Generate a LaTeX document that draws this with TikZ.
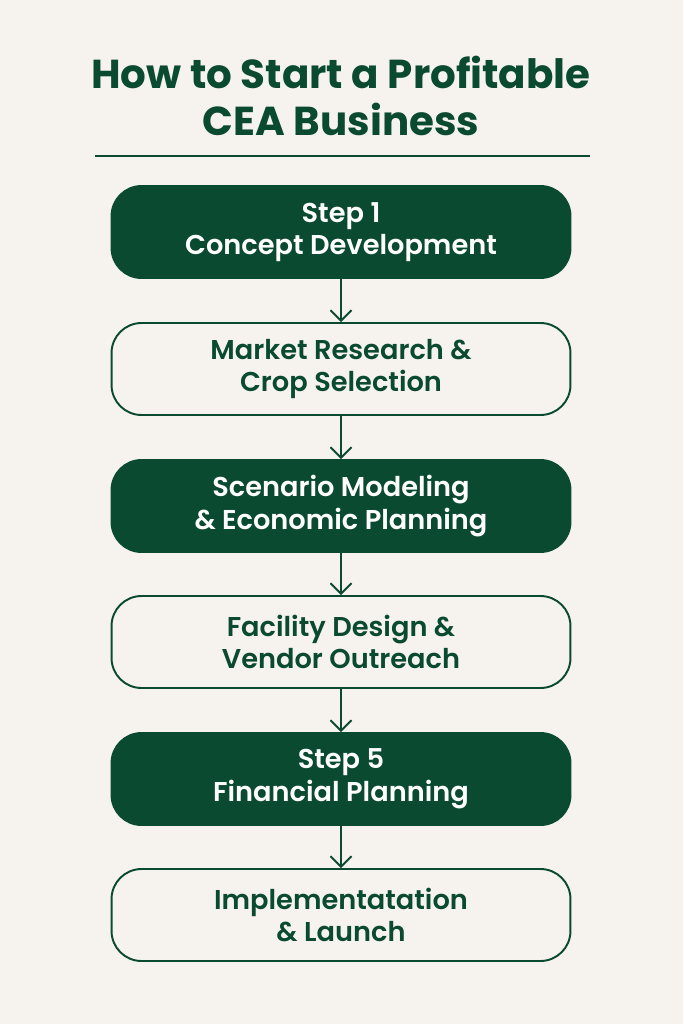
\documentclass[tikz,border=0pt]{standalone}
\usepackage{fontspec}
\setmainfont{Poppins}[BoldFont={Poppins SemiBold}]
\newfontfamily\titlefont{Poppins Bold}
\usepackage{xcolor}
\usepackage{tikz}
\usetikzlibrary{positioning,calc,arrows.meta}
\definecolor{cgreen}{HTML}{0A4A30}
\definecolor{cbg}{HTML}{F6F3EE}
\tikzstyle{full}= [rectangle, rounded corners=0.6cm, fill=cgreen, draw=cgreen, line width=1.1pt, text=white, minimum width=9.18cm, minimum height=1.84cm, align=center, font=\fontsize{15.5}{18.5}\selectfont\bfseries]
\tikzstyle{empty}= [rectangle, rounded corners=0.6cm, fill=cbg, draw=cgreen, line width=1.1pt, text=cgreen, minimum width=9.18cm, minimum height=1.84cm, align=center, font=\fontsize{15.5}{18.5}\selectfont\bfseries]
\tikzstyle{arr}= [draw=cgreen, line width=1.1pt, -{Straight Barb[length=6pt,width=12pt]}]

\begin{document}
\begin{tikzpicture}[x=0.02cm, y=-0.02cm]
				\fill[cbg] (0, 0) rectangle (683, 1024);
				\node[text=cgreen, align=center, font=\fontsize{23}{26.5}\selectfont\titlefont] (title) at (341, 96) {How to Start a Profitable\\CEA Business};
				\draw[cgreen, line width=1.1pt] (95, 156) -- (590, 156);
				\node[full] (s1) at (341, 232) {Step 1\\Concept Development};
				\node[empty] (s2) at (341, 369) {Market Research \&\\Crop Selection};
				\node[full] (s3) at (341, 506) {Scenario Modeling\\\& Economic Planning};
				\node[empty] (s4) at (341, 642) {Facility Design \&\\Vendor Outreach};
				\node[full] (s5) at (341, 779) {Step 5\\Financial Planning};
				\node[empty] (s6) at (341, 915) {Implementatation\\\& Launch};
				\draw[arr] (s1) -- (s2);
				\draw[arr] (s2) -- (s3);
				\draw[arr] (s3) -- (s4);
				\draw[arr] (s4) -- (s5);
				\draw[arr] (s5) -- (s6);
			\end{tikzpicture}
\end{document}
